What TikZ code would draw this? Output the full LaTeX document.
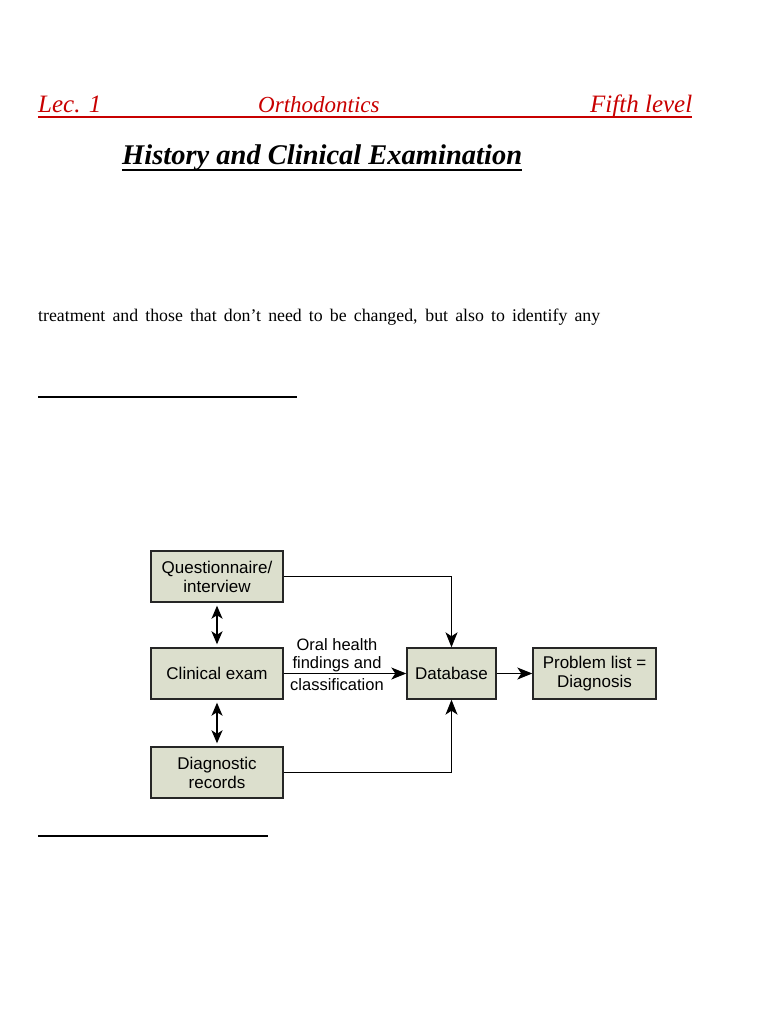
\documentclass[tikz,border=0pt]{standalone}
\usepackage{fontspec}
\setmainfont{Liberation Serif}
\newfontfamily\diagfont{Liberation Sans}
\usetikzlibrary{arrows.meta}
\definecolor{hdrred}{RGB}{200,0,0}
\definecolor{boxfill}{RGB}{220,223,205}
\begin{document}
\begin{tikzpicture}[x=1pt,y=-1pt,
  box/.style={draw=black!85, line width=1.4pt, fill=boxfill, align=center,
    font=\diagfont\fontsize{17}{19}\selectfont, inner sep=0pt},
  hdr/.style={text=hdrred, font=\itshape\fontsize{23}{26}\selectfont, anchor=base west, inner sep=0pt},
  conn/.style={line width=1pt, -{Stealth[length=15pt,width=12pt,inset=4pt]}},
  dconn/.style={line width=1.6pt, {Stealth[length=13pt,width=11pt,inset=3.5pt]}-{Stealth[length=13pt,width=11pt,inset=3.5pt]}, shorten >=3pt, shorten <=3pt},
  lab/.style={font=\diagfont\fontsize{16.5}{18}\selectfont, inner sep=0pt, align=center},
  rule/.style={line width=2pt}]
\useasboundingbox (0,0) rectangle (768,1024);
% header
\node[hdr, font=\itshape\fontsize{25}{27}\selectfont] (lec) at (38,113) {Lec. 1};
\node[hdr] (orth) at (258,113) {Orthodontics};
\node[hdr, font=\itshape\fontsize{25}{27}\selectfont] (fifth) at (590,113) {Fifth level};
\coordinate (hl1) at (38,117);
\coordinate (hl2) at (692,117);
\draw[hdrred, line width=2pt] (hl1) -- (hl2);
\node[anchor=base west, inner sep=0pt, font=\bfseries\itshape\fontsize{28.5}{31}\selectfont] (title) at (122,165) {History and Clinical Examination};
\coordinate (tl1) at (122,170);
\coordinate (tl2) at (522,170);
\draw[line width=1.5pt] (tl1) -- (tl2);
% body
\node[anchor=base west, inner sep=0pt, font=\fontsize{17.8}{20}\selectfont] (body) at (38,321)
  {\makebox[562pt][s]{treatment and those that don’t need to be changed, but also to identify any}};
\coordinate (r1a) at (38,397);
\coordinate (r1b) at (297,397);
\draw[rule] (r1a) -- (r1b);
\coordinate (r2a) at (38,836);
\coordinate (r2b) at (268,836);
\draw[rule] (r2a) -- (r2b);
% diagram
\node[box, minimum width=132pt, minimum height=51pt] (q) at (217,576.5) {Questionnaire/\\interview};
\node[box, minimum width=132pt, minimum height=51pt] (c) at (217,673.5) {Clinical exam};
\node[box, minimum width=132pt, minimum height=51pt] (d) at (217,772.5) {Diagnostic\\records};
\node[box, minimum width=89pt, minimum height=51pt] (db) at (451.5,673.5) {Database};
\node[box, minimum width=123pt, minimum height=51pt] (p) at (594.5,673.5) {Problem list =\\Diagnosis};
\draw[dconn] (q.south) -- (c.north);
\draw[dconn] (c.south) -- (d.north);
\draw[conn] (q.east) -| (db.north);
\draw[conn] (d.east) -| (db.south);
\draw[conn] (c.east) -- (db.west);
\node[lab, anchor=south] (lab1) at (337,672) {Oral health\\findings and};
\node[lab, anchor=north] (lab2) at (337,678) {classification};
\draw[conn] (db.east) -- (p.west);
\end{tikzpicture}
\end{document}
